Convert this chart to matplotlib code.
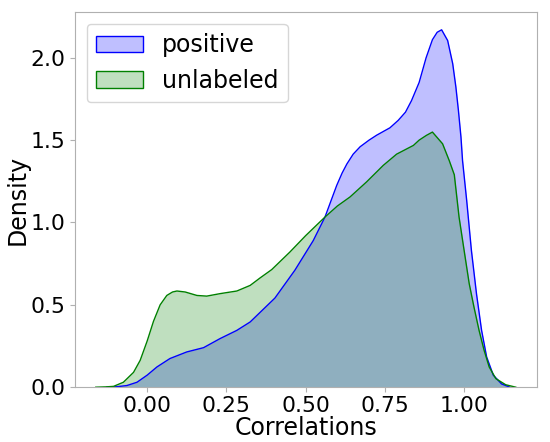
import numpy as np
import matplotlib.pyplot as plt
from matplotlib.patches import Patch

# density curves
pos_x = [-0.127, -0.095, -0.064, -0.032, 0.0, 0.031, 0.072, 0.125, 0.178, 0.23,
         0.283, 0.325, 0.403, 0.466, 0.524, 0.561, 0.598, 0.615, 0.63, 0.65,
         0.672, 0.70, 0.724, 0.766, 0.792, 0.815, 0.834, 0.858, 0.88, 0.90,
         0.915, 0.929, 0.948, 0.964, 0.974, 0.982, 0.99, 0.995, 1.008, 1.023,
         1.039, 1.055, 1.071, 1.092, 1.118, 1.144]
pos_y = [0.0, 0.003, 0.01, 0.03, 0.073, 0.123, 0.174, 0.214, 0.24, 0.295,
         0.345, 0.396, 0.541, 0.71, 0.89, 1.033, 1.225, 1.30, 1.355, 1.415,
         1.46, 1.50, 1.53, 1.575, 1.62, 1.67, 1.74, 1.85, 2.0, 2.11,
         2.155, 2.17, 2.105, 1.964, 1.822, 1.68, 1.519, 1.376, 1.135, 0.83,
         0.567, 0.346, 0.184, 0.073, 0.02, 0.0]

unl_x = [-0.162, -0.13, -0.106, -0.075, -0.043, -0.022, 0.0, 0.02, 0.041, 0.062,
         0.08, 0.094, 0.12, 0.157, 0.188, 0.23, 0.283, 0.325, 0.356, 0.393,
         0.45, 0.50, 0.561, 0.60, 0.64, 0.692, 0.745, 0.787, 0.84, 0.858,
         0.881, 0.90, 0.932, 0.953, 0.969, 0.984, 1.0, 1.016, 1.031, 1.047,
         1.063, 1.079, 1.1, 1.131, 1.163]
unl_y = [0.0, 0.002, 0.005, 0.03, 0.09, 0.163, 0.28, 0.40, 0.50, 0.557,
         0.578, 0.584, 0.578, 0.557, 0.553, 0.568, 0.584, 0.618, 0.663, 0.714,
         0.82, 0.92, 1.033, 1.10, 1.155, 1.246, 1.347, 1.415, 1.468, 1.50,
         1.529, 1.549, 1.478, 1.376, 1.29, 1.033, 0.83, 0.629, 0.487, 0.346,
         0.224, 0.123, 0.052, 0.015, 0.0]

fig, ax = plt.subplots(figsize=(5.5, 4.42), dpi=100)
fig.subplots_adjust(left=0.136, right=0.976, top=0.973, bottom=0.124)

ax.fill_between(pos_x, pos_y, color='blue', alpha=0.25, linewidth=0)
ax.plot(pos_x, pos_y, color='blue', linewidth=1)
ax.fill_between(unl_x, unl_y, color='green', alpha=0.25, linewidth=0)
ax.plot(unl_x, unl_y, color='green', linewidth=1)

ax.set_ylim(bottom=0)
ax.set_xticks([0.0, 0.25, 0.5, 0.75, 1.0])
ax.set_yticks([0.0, 0.5, 1.0, 1.5, 2.0])
ax.tick_params(labelsize=15.75, color='#b0b0b0', pad=3)
for s in ax.spines.values():
    s.set_color('#b0b0b0')
ax.set_xlabel('Correlations', fontsize=17, labelpad=0)
ax.set_ylabel('Density', fontsize=17, labelpad=1)

handles = [Patch(facecolor=(0, 0, 1, 0.25), edgecolor='blue', label='positive'),
           Patch(facecolor=(0, 0.5, 0, 0.25), edgecolor='green', label='unlabeled')]
ax.legend(handles=handles, loc='upper left', fontsize=17)

fig.savefig('out.png', dpi=100)
